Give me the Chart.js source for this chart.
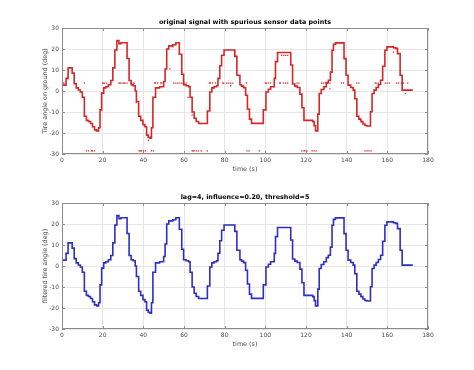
<!DOCTYPE html>
<html lang="en">
<head>
    <meta charset="UTF-8">
    <title>Tire angle with spurious sensor data</title>
    <style>
        body {
            margin: 0;
            background-color: #ffffff;
            font-family: "DejaVu Sans", sans-serif;
        }
        .panel {
            position: absolute;
            left: 0;
            width: 474px;
            height: 175px;
        }
    </style>
    <script src="https://cdn.jsdelivr.net/npm/chart.js"></script>
</head>
<body>
    <div class="panel" style="top: 0;"><canvas id="rawChart" width="474" height="175"></canvas></div>
    <div class="panel" style="top: 175px;"><canvas id="filteredChart" width="474" height="175"></canvas></div>
    <script>
        // staircase signal: time (s) where each new level starts, and the level (deg)
        const stepTimes = [
            0, 2, 3, 5, 6, 7, 8, 9, 10, 11, 12, 13, 14, 15, 16, 17, 18, 18.7, 19.5, 20.5,
            21.5, 22.8, 24, 25, 26, 27, 28, 29, 32, 33, 34, 35, 36, 36.6, 37.7, 38.7, 39.8, 40.8, 41.6, 42.4,
            43.3, 44, 44.7, 46, 48, 50, 50.7, 51.5, 52.5, 54.5, 56, 57.7, 58.9, 59.8, 61, 62.3, 63, 64, 65, 66,
            67.2, 71.5, 72.7, 73.7, 74.8, 76, 76.7, 77.6, 78.5, 79.7, 85, 86, 87.5, 88.3, 89.3, 90.3, 91.2, 92.2, 93.2, 99,
            100.3, 101.5, 102.6, 104.4, 105, 106, 112.5, 113.4, 114.5, 115.7, 117, 118, 119, 123.3, 124, 124.7, 125.8, 126.5, 127.5, 128.8,
            130, 131, 132, 132.8, 133.5, 134.5, 138.7, 139.7, 140.7, 142, 143.2, 144, 145, 146, 147, 148, 149, 150, 151.7, 152.5,
            153.5, 154.5, 155.6, 156.7, 157.7, 158.8, 159.8, 163, 164, 165, 166.3, 167.3, 172.5
        ];
        const stepAngles = [
            2.8, 6, 11, 8.5, 3.5, 1.5, 0.5, -0.5, -3, -12, -14, -14.5, -15.5, -17, -18.5, -19, -17.5, -9, -1, 1.5,
            2, 3, 5, 11, 19.5, 24, 22.5, 23, 15.5, 5, 3, 2.5, 0, -5, -12, -14, -16, -17, -21, -22,
            -22.5, -17.5, -3, 1.5, 2, 4.5, 10.5, 20, 21.5, 22, 23, 17.5, 8, 3, 2.5, 2, -3, -10, -13, -14.5,
            -15.5, -9.5, -0.5, 1.5, 2, 2.5, 6, 12, 17, 19.5, 16.5, 7.5, 3, 2.3, 1.6, -2, -8.6, -13.4, -15.4, -9,
            -0.5, 0.8, 2, 6, 14, 18.3, 12.4, 3.3, 2.3, 1.7, -1.5, -8, -14, -14.6, -16.5, -19, -11, -1.2, 0.7, 2,
            4, 5.1, 9, 19.4, 22.2, 22.9, 15.4, 7.5, 2.8, 1.7, 0.4, -3.7, -12, -13.4, -14.6, -15.7, -16.4, -16.7, -9.9, -1.2,
            0.4, 1.7, 3.1, 5.1, 11.8, 19.4, 21, 20.6, 20.3, 17.8, 7.5, 0.4, 0.4
        ];

        // spurious sensor readings
        const spurTimes = [
            0, 0.5, 1, 11, 20, 20.5, 21, 22, 28, 28.5, 29, 30, 30.5, 31, 32, 34, 35, 35.5, 45.5, 46,
            47, 48.5, 49, 55, 56, 57, 58, 59, 60, 61, 72.5, 73, 74, 75.5, 79, 79.5, 81, 82, 83, 84,
            90.8, 100, 100.5, 101.5, 102.5, 107, 107.5, 109, 110, 111, 115.6, 116.5, 127.7, 128.5, 129.5, 130.5, 131.8, 137.5, 138.4, 145,
            146, 154, 154.5, 155.5, 159, 160, 161, 164.6, 165.5, 167, 168, 170,
            12, 13, 14.5, 15, 16, 38, 38.5, 39, 40, 41, 44, 45, 64, 64.5, 65, 66, 67, 68.5, 71.5, 91,
            92, 97, 118, 119, 119.5, 120.5, 123, 124, 125, 149, 150, 151, 152,
            19.5, 36.5, 42.5, 53, 54.5, 62, 64, 83, 108, 109, 110, 111, 131.8, 134.6, 163, 168.8
        ];
        const spurAngles = [
            3.8, 3.8, 3.8, 3.8, 3.8, 3.8, 3.8, 3.8, 3.8, 3.8, 3.8, 3.8, 3.8, 3.8, 3.8, 3.8, 3.8, 3.8, 3.8, 3.8,
            3.8, 3.8, 3.8, 3.8, 3.8, 3.8, 3.8, 3.8, 3.8, 3.8, 3.8, 3.8, 3.8, 3.8, 3.8, 3.8, 3.8, 3.8, 3.8, 3.8,
            3.8, 3.8, 3.8, 3.8, 3.8, 3.8, 3.8, 3.8, 3.8, 3.8, 3.8, 3.8, 3.8, 3.8, 3.8, 3.8, 3.8, 3.8, 3.8, 3.8,
            3.8, 3.8, 3.8, 3.8, 3.8, 3.8, 3.8, 3.8, 3.8, 3.8, 3.8, 3.8,
            -28.5, -28.5, -28.5, -28.5, -28.5, -28.5, -28.5, -28.5, -28.5, -28.5, -28.5, -28.5, -28.5, -28.5, -28.5, -28.5, -28.5, -28.5, -28.5, -28.5,
            -28.5, -28.5, -28.5, -28.5, -28.5, -28.5, -28.5, -28.5, -28.5, -28.5, -28.5, -28.5, -28.5,
            -1, -5.5, -23.5, 10.5, 21, -3, -11.5, 2.5, 17, 17, 17, 17, 1, 22.4, 18.5, -1.3
        ];

        const xTicks = [0, 20, 40, 60, 80, 100, 120, 140, 160, 180];
        const yTicks = [-30, -20, -10, 0, 10, 20, 30];

        const tickFont = { family: 'DejaVu Sans', size: 6 };
        const labelFont = { family: 'DejaVu Sans', size: 6.4 };
        const titleFont = { family: 'DejaVu Sans', size: 6.4, weight: 'bold' };
        const labelColor = '#4a4a4a';
        const boxColor = '#8c8c8c';

        function points(times, values) {
            return times.map((t, i) => ({ x: t, y: values[i] }));
        }

        // axes box and inward ticks, matlab style
        const boxPlugin = {
            id: 'box',
            afterDraw(chart) {
                const { ctx, chartArea: a, scales } = chart;
                ctx.save();
                ctx.strokeStyle = boxColor;
                ctx.lineWidth = 1;
                ctx.strokeRect(Math.round(a.left) + 0.5, Math.round(a.top) + 0.5,
                    Math.round(a.width) - 1, Math.round(a.height) - 1);
                ctx.beginPath();
                xTicks.forEach(v => {
                    const px = Math.round(scales.x.getPixelForValue(v)) + 0.5;
                    ctx.moveTo(px, a.bottom); ctx.lineTo(px, a.bottom - 3);
                    ctx.moveTo(px, a.top); ctx.lineTo(px, a.top + 3);
                });
                yTicks.forEach(v => {
                    const py = Math.round(scales.y.getPixelForValue(v)) + 0.5;
                    ctx.moveTo(a.left, py); ctx.lineTo(a.left + 3, py);
                    ctx.moveTo(a.right, py); ctx.lineTo(a.right - 3, py);
                });
                ctx.stroke();
                ctx.restore();
            }
        };

        function makeOptions(title, yTitle) {
            return {
                responsive: false,
                devicePixelRatio: 1,
                animation: false,
                layout: { padding: { left: 0, right: 46, top: 0, bottom: 0 } },
                plugins: {
                    legend: { display: false },
                    tooltip: { enabled: false }
                },
                scales: {
                    x: {
                        type: 'linear',
                        min: 0,
                        max: 180,
                        afterBuildTicks: axis => { axis.ticks = xTicks.map(v => ({ value: v })); },
                        afterFit: axis => { axis.height = 21; },
                        grid: { color: '#e6e6e6', drawTicks: false },
                        border: { display: false },
                        ticks: { color: labelColor, font: tickFont, padding: 2.4, maxRotation: 0 },
                        title: { display: true, text: 'time (s)', color: labelColor, font: labelFont, padding: { top: 0, bottom: 2.2 } }
                    },
                    // top axis only carries the plot title, centred over the plot box
                    top: {
                        type: 'linear',
                        position: 'top',
                        min: 0,
                        max: 180,
                        afterFit: axis => { axis.height = 28; },
                        grid: { display: false },
                        border: { display: false },
                        ticks: { display: false },
                        title: { display: true, text: title, color: '#000000', font: titleFont, padding: { top: 18.2, bottom: 0 } }
                    },
                    y: {
                        min: -30,
                        max: 30,
                        afterBuildTicks: axis => { axis.ticks = yTicks.map(v => ({ value: v })); },
                        afterFit: axis => { axis.width = 62; },
                        grid: { color: '#e6e6e6', drawTicks: false },
                        border: { display: false },
                        ticks: { color: labelColor, font: tickFont, padding: 3 },
                        title: { display: true, text: yTitle, color: labelColor, font: labelFont, padding: { top: 41.2, bottom: 0 } }
                    }
                }
            };
        }

        new Chart(document.getElementById('rawChart'), {
            type: 'scatter',
            data: {
                datasets: [{
                    data: points(stepTimes, stepAngles),
                    showLine: true,
                    stepped: true,
                    borderColor: 'rgb(214, 38, 40)',
                    borderWidth: 1.6,
                    pointRadius: 0
                }, {
                    data: points(spurTimes, spurAngles),
                    showLine: false,
                    pointStyle: 'rect',
                    pointRadius: 0.9,
                    borderWidth: 0,
                    backgroundColor: 'rgb(214, 38, 40)'
                }]
            },
            options: makeOptions('original signal with spurious sensor data points', 'Tire angle on ground (deg)'),
            plugins: [boxPlugin]
        });

        // the filter removes the spurious readings, leaving the staircase signal
        new Chart(document.getElementById('filteredChart'), {
            type: 'scatter',
            data: {
                datasets: [{
                    data: points(stepTimes, stepAngles),
                    showLine: true,
                    stepped: true,
                    borderColor: 'rgb(46, 46, 196)',
                    borderWidth: 1.6,
                    pointRadius: 0
                }]
            },
            options: makeOptions('lag=4, influence=0.20, threshold=5', 'filtered tire angle (deg)'),
            plugins: [boxPlugin]
        });
    </script>
</body>
</html>
